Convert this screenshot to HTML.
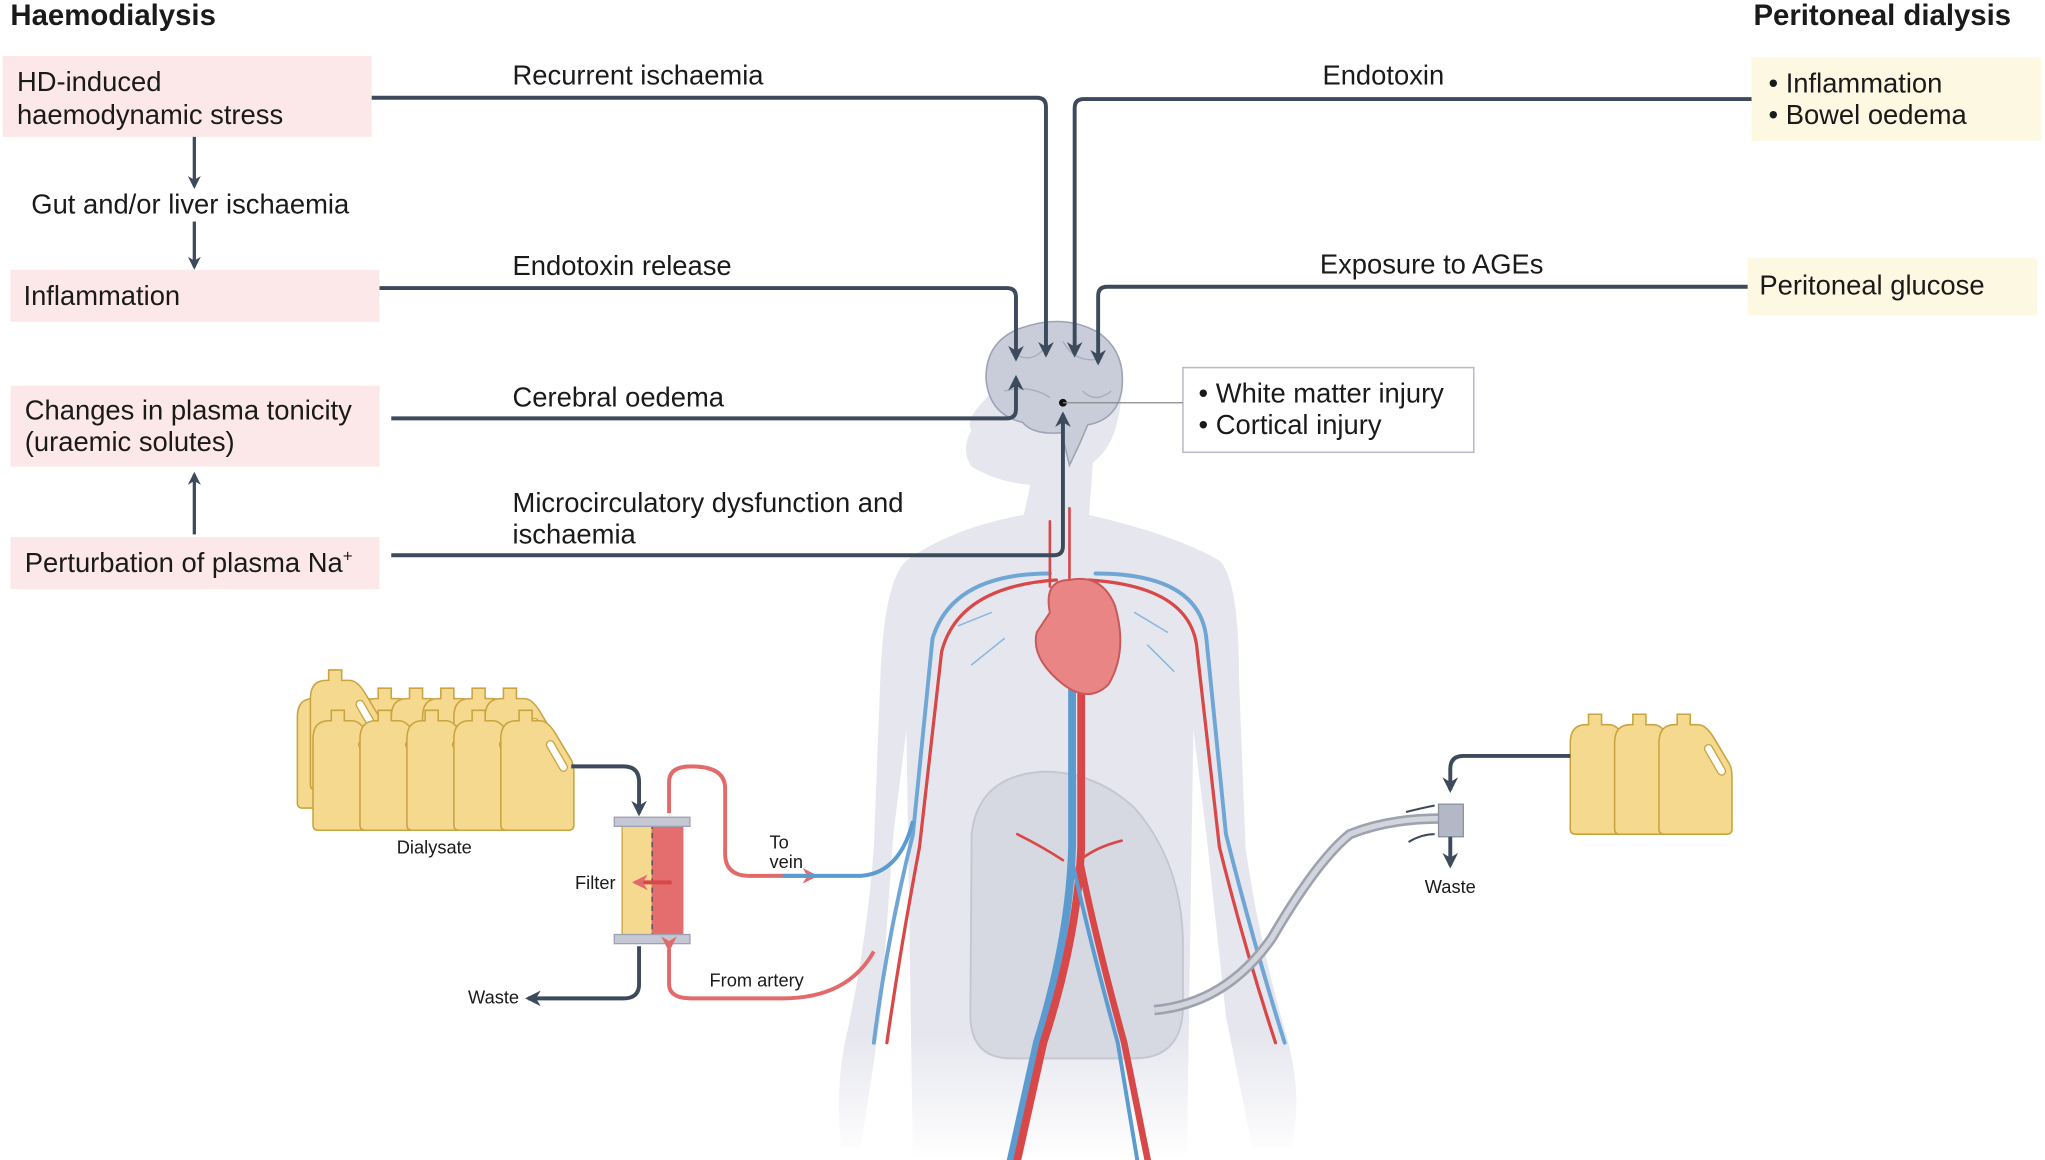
<!DOCTYPE html>
<html><head><meta charset="utf-8"><style>
html,body{margin:0;padding:0;background:#fff;}
svg{display:block;}
text{font-family:"Liberation Sans",sans-serif;fill:#1a1a1a;}
</style></head><body>
<svg width="2045" height="1160" viewBox="0 0 1568 890" preserveAspectRatio="none" xmlns="http://www.w3.org/2000/svg">
<defs>
<marker id="ah" viewBox="0 0 10 10" refX="8" refY="5" markerWidth="4" markerHeight="4" orient="auto"><path d="M0,0 L10,5 L0,10 L3,5z" fill="#3d4a5c"/></marker>
<marker id="ar" viewBox="0 0 10 10" refX="8" refY="5" markerWidth="4" markerHeight="4" orient="auto"><path d="M0,0 L10,5 L0,10 L3,5z" fill="#e36a6a"/></marker>
<linearGradient id="fade" x1="0" y1="0" x2="0" y2="1"><stop offset="0.85" stop-color="#e6e7ee"/><stop offset="1" stop-color="#fff"/></linearGradient>
<g id="jug"><path d="M0,22 Q0,8 12,8 L14,8 L14,0 L24,0 L24,8 L30,8 Q36,8 42,18 L54,38 Q56,42 56,48 L56,88 Q56,92 52,92 L4,92 Q0,92 0,88 Z" fill="#f4d98e" stroke="#c9a440" stroke-width="1.2"/><rect x="40" y="22" width="6" height="26" rx="3" transform="rotate(-30 43 35)" fill="#fff" stroke="#c9a440"/></g>
</defs>

<!-- body silhouette -->
<path d="M762,300 Q758,252 805,246 Q855,248 860,300 Q858,340 838,355 L835,395 Q900,410 935,430 Q950,445 950,520 L955,650 Q965,720 985,790 Q1000,840 990,880 L960,880 Q950,830 940,780 L925,640 L915,560 L910,890 L700,890 L695,560 L685,640 L675,780 Q668,830 660,880 L645,880 Q640,830 650,790 Q665,720 670,650 L675,520 Q678,445 695,430 Q730,405 785,395 L790,372 Q765,370 745,358 Q736,345 745,330 Q738,322 762,300Z" fill="url(#fade)"/>
<!-- abdomen -->
<path d="M745,640 Q750,595 800,592 Q840,592 870,620 Q905,660 907,720 L907,775 Q905,812 870,812 L775,812 Q745,812 744,780Z" fill="#d7d9e2" stroke="#c4c7d3" stroke-width="1.5"/>
<!-- vessels -->
<g fill="none" stroke-linecap="round">
<path d="M822,480 L822,650 Q820,720 795,800 L775,890" stroke="#5b9bd0" stroke-width="6"/>
<path d="M829,480 L829,650 Q826,720 800,800 L780,890" stroke="#d94848" stroke-width="6"/>
<path d="M828,660 Q840,720 862,800 L880,890" stroke="#d94848" stroke-width="5"/>
<path d="M822,660 Q835,720 857,800 L872,890" stroke="#5b9bd0" stroke-width="3"/>
<path d="M805,440 Q730,440 715,490 L700,640 Q680,720 670,800" stroke="#6fa6d6" stroke-width="3"/>
<path d="M810,445 Q735,450 722,500 L705,650 Q690,730 680,800" stroke="#d94848" stroke-width="2.5"/>
<path d="M840,440 Q920,440 925,490 L940,640 Q960,720 985,800" stroke="#6fa6d6" stroke-width="3"/>
<path d="M835,445 Q915,450 918,500 L935,650 Q955,730 978,800" stroke="#d94848" stroke-width="2.5"/>
<path d="M805,400 L805,450 M820,390 L820,450" stroke="#d94848" stroke-width="2"/>
<path d="M780,640 Q800,650 815,660 M860,645 Q840,650 828,660" stroke="#d94848" stroke-width="2"/>
<path d="M770,490 L745,510 M760,470 L735,480 M870,470 L895,485 M880,495 L900,515" stroke="#8bb8e0" stroke-width="1.2"/>
</g>
<!-- heart -->
<path d="M805,470 Q800,445 820,445 Q845,440 855,465 Q865,500 850,525 Q835,540 815,525 Q790,505 795,485Z" fill="#e98585" stroke="#c95858" stroke-width="1.5"/>
<!-- brain -->
<path d="M756,290 Q756,262 782,252 Q815,240 842,255 Q864,270 860,300 Q856,322 834,326 L828,340 L820,357 L814,332 Q792,334 784,324 Q758,318 756,290Z" fill="#c9ccd9" stroke="#9da2b5" stroke-width="1.2"/>
<path d="M775,270 Q790,280 800,268 M815,262 Q825,280 845,275 M770,300 Q790,295 805,305 M830,300 Q840,310 852,300" fill="none" stroke="#a7acbe" stroke-width="1"/>

<!-- Titles -->
<text x="8" y="19" font-size="22.5" font-weight="bold" fill="#111">Haemodialysis</text>
<text x="1542" y="19" font-size="22.5" font-weight="bold" text-anchor="end" fill="#111">Peritoneal dialysis</text>

<g font-size="21">
<!-- left boxes -->
<rect x="2" y="43" width="283" height="62" fill="#fde8e9"/>
<text x="13" y="70">HD-induced</text>
<text x="13" y="95">haemodynamic stress</text>
<text x="24" y="164">Gut and/or liver ischaemia</text>
<rect x="8" y="207" width="283" height="40" fill="#fde8e9"/>
<text x="18" y="234">Inflammation</text>
<rect x="8" y="296" width="283" height="62" fill="#fde8e9"/>
<text x="19" y="322">Changes in plasma tonicity</text>
<text x="19" y="346">(uraemic solutes)</text>
<rect x="8" y="412" width="283" height="40" fill="#fde8e9"/>
<text x="19" y="439">Perturbation of plasma Na<tspan font-size="13" dy="-8">+</tspan></text>

<!-- right boxes -->
<rect x="1343" y="44" width="222" height="64" fill="#fdf8e2"/>
<text x="1356" y="71">• Inflammation</text>
<text x="1356" y="95">• Bowel oedema</text>
<rect x="1340" y="198" width="222" height="44" fill="#fdf8e2"/>
<text x="1349" y="226">Peritoneal glucose</text>
<rect x="907" y="282" width="223" height="65" fill="#fff" stroke="#b8bcc8" stroke-width="1.2"/>
<text x="919" y="309">• White matter injury</text>
<text x="919" y="333">• Cortical injury</text>

<!-- connector labels -->
<text x="393" y="65">Recurrent ischaemia</text>
<text x="393" y="211">Endotoxin release</text>
<text x="393" y="312">Cerebral oedema</text>
<text x="393" y="393">Microcirculatory dysfunction and</text>
<text x="393" y="417">ischaemia</text>
<text x="1014" y="65">Endotoxin</text>
<text x="1012" y="210">Exposure to AGEs</text>
</g>

<!-- connectors -->
<g fill="none" stroke="#3d4a5c" stroke-width="3">
<path d="M285,75 L795,75 Q802,75 802,82 L802,272" marker-end="url(#ah)"/>
<path d="M1343,76 L831,76 Q824,76 824,83 L824,272" marker-end="url(#ah)"/>
<path d="M291,221 L772,221 Q779,221 779,228 L779,275" marker-end="url(#ah)"/>
<path d="M1340,220 L849,220 Q842,220 842,227 L842,278" marker-end="url(#ah)"/>
<path d="M300,321 L772,321 Q779,321 779,314 L779,290" marker-end="url(#ah)"/>
<path d="M300,426 L808,426 Q815,426 815,419 L815,318" marker-end="url(#ah)"/>
<path d="M149,105 L149,143" marker-end="url(#ah)" stroke-width="2.5"/>
<path d="M149,170 L149,205" marker-end="url(#ah)" stroke-width="2.5"/>
<path d="M149,410 L149,364" marker-end="url(#ah)" stroke-width="2.5"/>
</g>
<circle cx="815" cy="309" r="3" fill="#111"/>
<line x1="815" y1="309" x2="907" y2="309" stroke="#888" stroke-width="1"/>

<!-- dialysate jugs -->
<g>
<use href="#jug" x="228" y="528"/><use href="#jug" x="252" y="528"/><use href="#jug" x="276" y="528"/><use href="#jug" x="300" y="528"/><use href="#jug" x="324" y="528"/><use href="#jug" x="348" y="528"/><use href="#jug" x="372" y="528"/>
<use href="#jug" x="238" y="514"/>
<use href="#jug" x="240" y="545"/><use href="#jug" x="276" y="545"/><use href="#jug" x="312" y="545"/><use href="#jug" x="348" y="545"/><use href="#jug" x="384" y="545"/>
</g>
<text x="333" y="655" font-size="14" text-anchor="middle">Dialysate</text>
<!-- filter -->
<rect x="477" y="632" width="23" height="86" fill="#f4d98e" stroke="#c9a440"/>
<rect x="500" y="632" width="24" height="86" fill="#e46d6d"/>
<line x1="500" y1="632" x2="500" y2="718" stroke="#3d4a5c" stroke-dasharray="4,3"/>
<rect x="471" y="627" width="58" height="7" fill="#c5c8d4" stroke="#9ea2b0"/>
<rect x="471" y="717" width="58" height="7" fill="#c5c8d4" stroke="#9ea2b0"/>
<path d="M515,677 L487,677" stroke="#d94848" stroke-width="3" marker-end="url(#ar)"/>
<text x="472" y="682" font-size="14" text-anchor="end">Filter</text>
<g fill="none" stroke-width="3">
<path d="M438,588 L478,588 Q490,588 490,600 L490,624" stroke="#3d4a5c" marker-end="url(#ah)"/>
<path d="M490,726 L490,755 Q490,766 478,766 L405,766" stroke="#3d4a5c" marker-end="url(#ah)"/>
<path d="M513,624 L513,600 Q513,588 530,588 Q556,588 556,605 L556,655 Q556,672 575,672 L625,672" stroke="#e36a6a" marker-end="url(#ar)"/>
<path d="M600,672 L660,672 Q690,670 700,630" stroke="#5b9bd0"/>
<path d="M513,728 L513,755 Q513,766 530,766 L600,766 Q650,766 670,730" stroke="#e36a6a" marker-start="url(#ar)"/>
</g>
<text x="590" y="651" font-size="14">To</text>
<text x="590" y="666" font-size="14">vein</text>
<text x="544" y="757" font-size="14">From artery</text>
<text x="398" y="770" font-size="14" text-anchor="end">Waste</text>

<!-- PD -->
<use href="#jug" x="1204" y="548"/><use href="#jug" x="1238" y="548"/><use href="#jug" x="1272" y="548"/>
<path d="M1204,580 L1122,580 Q1112,580 1112,590 L1112,606" fill="none" stroke="#3d4a5c" stroke-width="3" marker-end="url(#ah)"/>
<path d="M885,775 Q940,770 975,720 Q1010,660 1035,640 Q1065,628 1105,628" fill="none" stroke="#9ea2b0" stroke-width="8"/>
<path d="M885,775 Q940,770 975,720 Q1010,660 1035,640 Q1065,628 1105,628" fill="none" stroke="#d3d5dd" stroke-width="4"/>
<rect x="1103" y="617" width="19" height="25" fill="#b4b8c6" stroke="#8c91a2"/>
<path d="M1112,642 L1112,664" stroke="#3d4a5c" stroke-width="3" marker-end="url(#ah)"/>
<path d="M1100,618 Q1090,620 1078,623 M1100,640 Q1090,640 1080,646" stroke="#3d4a5c" stroke-width="1.5" fill="none"/>
<text x="1112" y="685" font-size="14" text-anchor="middle">Waste</text>
</svg>
</body></html>
